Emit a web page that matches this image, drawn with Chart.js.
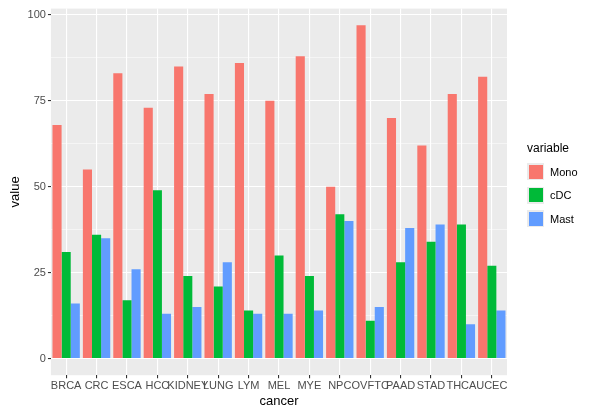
<!DOCTYPE html>
<html><head><script src="https://cdn.jsdelivr.net/npm/chart.js@4"></script>
<style>body{margin:0;background:#fff;font-family:"Liberation Sans",Arial,sans-serif}
#w{position:relative;width:600px;height:415px}
#lg{position:absolute;left:527px;top:141px;font-size:12px;color:#000}
.it{display:flex;align-items:center;height:23.5px;font-size:11px}
.bx{width:17px;height:17px;background:#EBEBEB;display:flex;align-items:center;justify-content:center;margin-right:6px}
.bx span{width:14px;height:14px;display:block}
</style></head><body><div id="w"><canvas id="c" width="600" height="415"></canvas>
<div id="lg"><div style="margin-bottom:5px">variable</div></div></div>
<script>
const categories=["BRCA","CRC","ESCA","HCC","KIDNEY","LUNG","LYM","MEL","MYE","NPC","OVFTC","PAAD","STAD","THCA","UCEC"];
const mono=[68,55,83,73,85,77,86,75,88,50,97,70,62,77,82];
const cdc=[31,36,17,49,24,21,14,30,24,42,11,28,34,39,27];
const mast=[16,35,26,13,15,28,13,13,14,40,15,38,39,10,14];
const names=["Mono","cDC","Mast"];
const colors=["#F8766D","#00BA38","#619CFF"];
const lg=document.getElementById('lg');
names.forEach((n,i)=>{lg.innerHTML+=`<div class="it"><div class="bx"><span style="background:${colors[i]}"></span></div>${n}</div>`});
const bg={id:'bg',beforeDraw(ch){const a=ch.chartArea,x=ch.ctx;x.save();x.fillStyle='#EBEBEB';x.fillRect(a.left,a.top,a.right-a.left,a.bottom-a.top);x.restore();}};
new Chart(document.getElementById('c'),{type:'bar',
data:{labels:categories,datasets:[mono,cdc,mast].map((d,i)=>({label:names[i],data:d,backgroundColor:colors[i],barPercentage:1,categoryPercentage:0.9}))},
options:{responsive:false,animation:false,layout:{padding:{top:5,right:93,left:4,bottom:2}},
plugins:{legend:{display:false},tooltip:{enabled:false}},
scales:{
x:{grid:{color:'#fff',lineWidth:1.1,offset:false,drawTicks:true,tickLength:3,tickColor:'#333'},border:{display:false},
ticks:{color:'#4D4D4D',font:{size:11,family:'Liberation Sans'},maxRotation:0,autoSkip:false,padding:1},
title:{display:true,text:'cancer',color:'#000',font:{size:13,family:'Liberation Sans'},padding:{top:0}}},
y:{min:-4.85,max:101.85,afterBuildTicks(s){const t=[];for(let v=0;v<=100;v+=12.5)t.push({value:v});s.ticks=t;},
grid:{color:'#fff',lineWidth:c=>c.tick&&c.tick.value%25===0?1.1:0.5,tickLength:3,tickColor:c=>c.tick&&c.tick.value%25===0?'#333':'rgba(0,0,0,0)'},border:{display:false},
ticks:{color:'#4D4D4D',font:{size:11,family:'Liberation Sans'},padding:2,callback:v=>v%25===0?v:''},
title:{display:true,text:'value',color:'#000',font:{size:13,family:'Liberation Sans'},padding:{bottom:2}}}}},
plugins:[bg]});
</script></body></html>
